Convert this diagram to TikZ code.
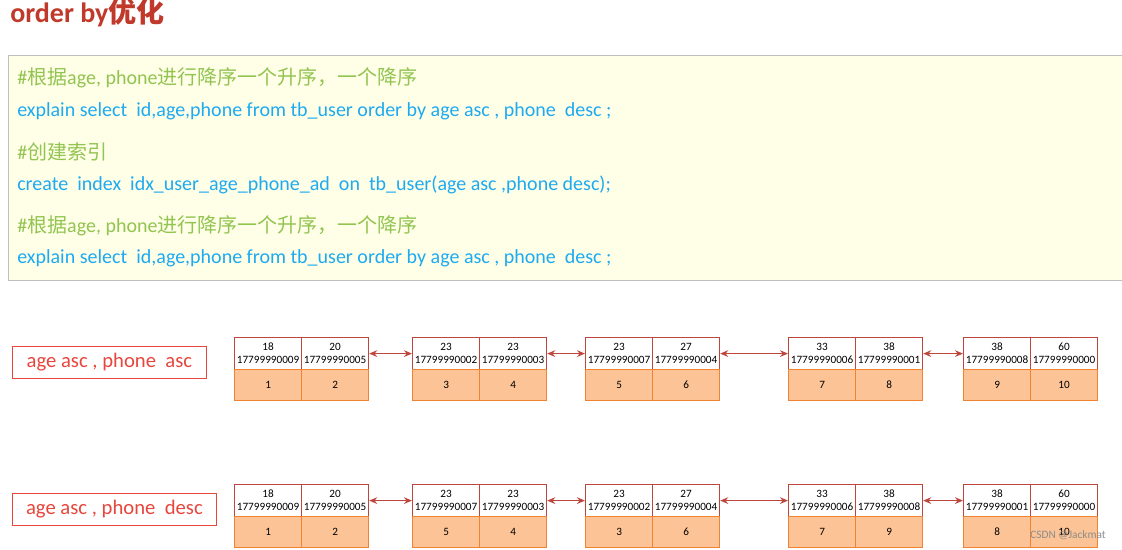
\documentclass[tikz,border=0pt]{standalone}
\usepackage{fontspec}
\setmainfont{Carlito}
\newfontfamily\cjk{Noto Sans CJK SC}
\usetikzlibrary{arrows.meta}
\definecolor{titlered}{RGB}{192,57,43}
\definecolor{codebg}{RGB}{255,255,232}
\definecolor{cgreen}{RGB}{146,196,80}
\definecolor{cblue}{RGB}{30,170,240}
\definecolor{cellred}{RGB}{190,70,60}
\definecolor{cellorange}{RGB}{240,130,50}
\definecolor{cellfill}{RGB}{252,196,150}
\definecolor{lblred}{RGB}{230,70,60}
\tikzset{
  x=0.75pt,y=-0.75pt,
  topcell/.style={draw=cellred,line width=0.9pt,fill=white,minimum width=50.25pt,minimum height=24pt,inner sep=0pt,align=center,font=\fontsize{8.4}{9.6}\selectfont},
  botcell/.style={draw=cellorange,line width=0.9pt,fill=cellfill,minimum width=50.25pt,minimum height=23.25pt,inner sep=0pt,font=\fontsize{8.4}{9.6}\selectfont},
  lbl/.style={draw=lblred,line width=0.6pt,minimum width=145.5pt,minimum height=24pt,inner sep=0pt,text=lblred,font=\fontsize{15.5}{17}\selectfont},
  codeline/.style={anchor=west,inner sep=0pt,font=\fontsize{15}{17}\selectfont},
  link/.style={cellred,line width=1.2pt,{Stealth[length=6pt,width=5pt]}-{Stealth[length=6pt,width=5pt]}}
}
\newcommand{\leaf}[8]{%
  \node[topcell,anchor=north west] (#1a) at (#2,#3) {#4};
  \node[topcell,anchor=north west] (#1b) at (#2+67,#3) {#5};
  \node[botcell,anchor=north west] (#1c) at (#2,#3+32) {#6};
  \node[botcell,anchor=north west] (#1d) at (#2+67,#3+32) {#7};
}
\begin{document}
\begin{tikzpicture}
\useasboundingbox (0,0) rectangle (1122,550);
\node[anchor=west,inner sep=0pt,text=titlered,font=\fontsize{21}{24}\selectfont\bfseries] (title) at (10,13) {order by{\cjk 优化}};
\node[draw=black!25,fill=codebg,anchor=north west,minimum width=835.5pt,minimum height=168.75pt,inner sep=0pt] (code) at (8,55) {};
\node[codeline,text=cgreen] (c1) at (17,78) {\#{\cjk 根据}age, phone{\cjk 进行降序一个升序，一个降序}};
\node[codeline,text=cblue] (c2) at (17,111) {explain select\ \ id,age,phone from tb\_user order by age asc , phone\ \ desc ;};
\node[codeline,text=cgreen] (c3) at (17,152) {\#{\cjk 创建索引}};
\node[codeline,text=cblue] (c4) at (17,185) {create\ \ index\ \ idx\_user\_age\_phone\_ad\ \ on\ \ tb\_user(age asc ,phone desc);};
\node[codeline,text=cgreen] (c5) at (17,226) {\#{\cjk 根据}age, phone{\cjk 进行降序一个升序，一个降序}};
\node[codeline,text=cblue] (c6) at (17,258) {explain select\ \ id,age,phone from tb\_user order by age asc , phone\ \ desc ;};
\node[lbl,anchor=north west] (l1) at (12,346) {age asc , phone\ \ asc};
\node[lbl,anchor=north west,minimum width=153pt] (l2) at (12,493) {age asc , phone\ \ desc};
% row 1
\leaf{a1}{234}{337}{18\\17799990009}{20\\17799990005}{1}{2}{}
\leaf{a2}{412}{337}{23\\17799990002}{23\\17799990003}{3}{4}{}
\leaf{a3}{585}{337}{23\\17799990007}{27\\17799990004}{5}{6}{}
\leaf{a4}{788}{337}{33\\17799990006}{38\\17799990001}{7}{8}{}
\leaf{a5}{963}{337}{38\\17799990008}{60\\17799990000}{9}{10}{}
% row 2
\leaf{b1}{234}{484}{18\\17799990009}{20\\17799990005}{1}{2}{}
\leaf{b2}{412}{484}{23\\17799990007}{23\\17799990003}{5}{4}{}
\leaf{b3}{585}{484}{23\\17799990002}{27\\17799990004}{3}{6}{}
\leaf{b4}{788}{484}{33\\17799990006}{38\\17799990008}{7}{9}{}
\leaf{b5}{963}{484}{38\\17799990001}{60\\17799990000}{8}{10}{}
\foreach \r in {a,b}{
  \draw[link] (\r1b.east) -- (\r2a.west);
  \draw[link] (\r2b.east) -- (\r3a.west);
  \draw[link] (\r3b.east) -- (\r4a.west);
  \draw[link] (\r4b.east) -- (\r5a.west);
}
\node[anchor=east,inner sep=0pt,text=black!45,font=\fontsize{8.5}{10}\selectfont] (wm) at (1106,535) {CSDN @Jackmat};
\end{tikzpicture}
\end{document}
